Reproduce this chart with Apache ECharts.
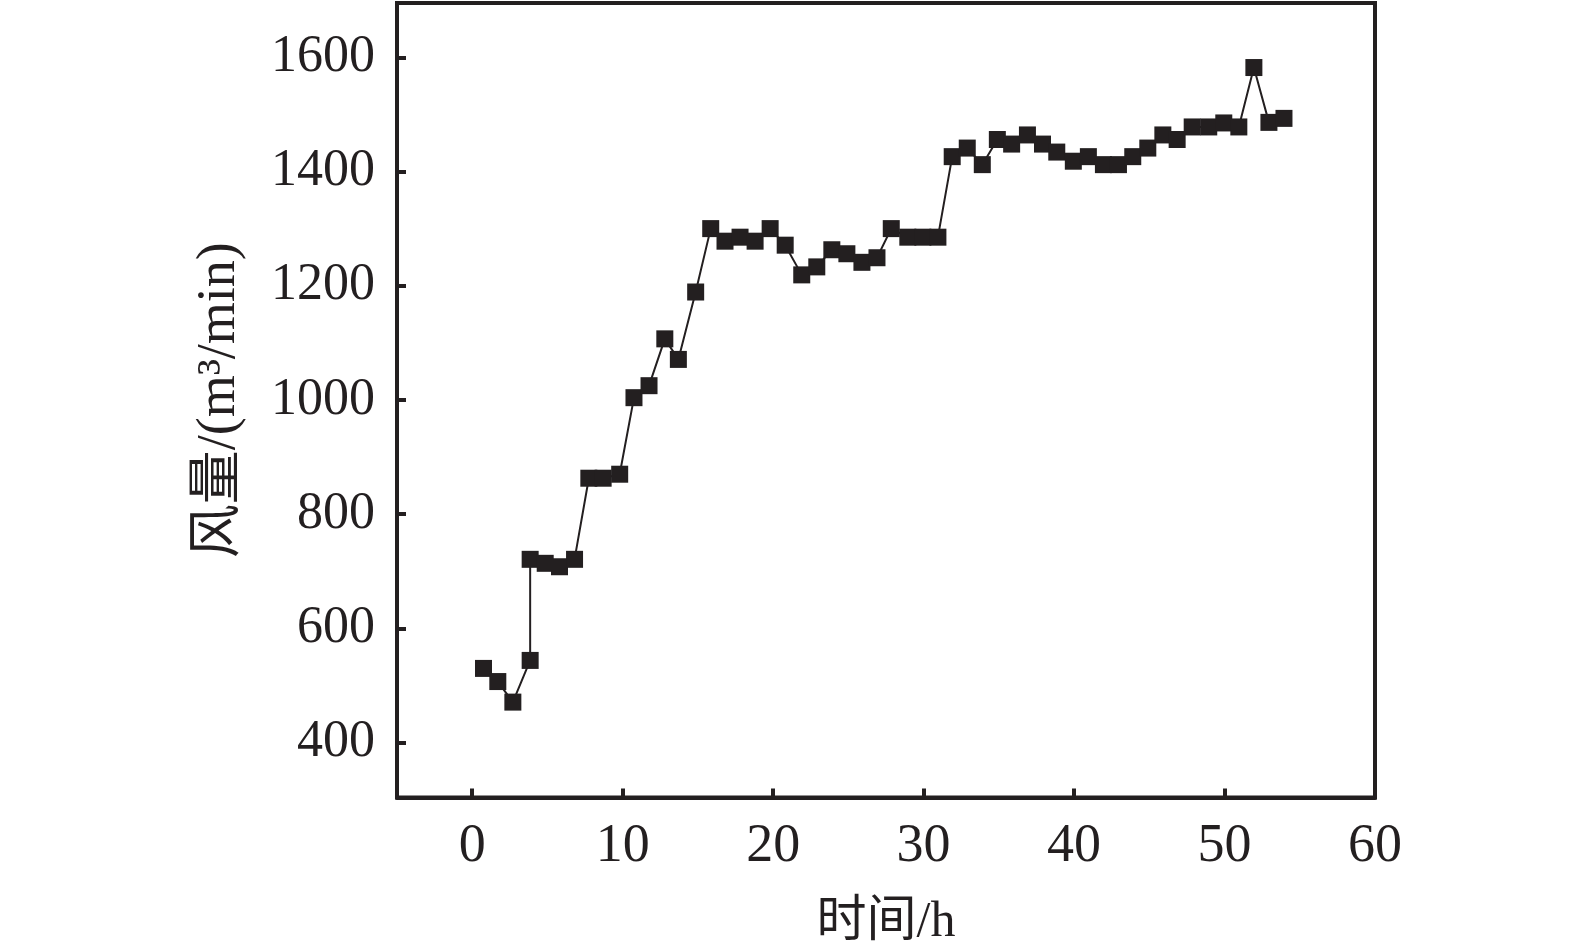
<!DOCTYPE html>
<html>
<head>
<meta charset="utf-8">
<script src="https://cdn.jsdelivr.net/npm/echarts@6/dist/echarts.min.js"></script>
<style>
  html, body { margin: 0; padding: 0; background: #ffffff; }
  #chart { width: 1575px; height: 950px; }
</style>
</head>
<body>
<div id="chart"></div>
<script>
var hours = [0.75, 1.7, 2.7, 3.85, 3.85, 4.85, 5.8, 6.8, 7.75, 8.7,
             9.8, 10.75, 11.75, 12.8, 13.7, 14.85, 15.85, 16.8, 17.8, 18.8,
             19.8, 20.8, 21.9, 22.9, 23.9, 24.9, 25.9, 26.9, 27.85, 28.95,
             29.95, 30.95, 31.9, 32.9, 33.9, 34.9, 35.85, 36.9, 37.9, 38.85,
             39.95, 40.95, 41.95, 42.95, 43.9, 44.9, 45.9, 46.85, 47.85, 48.95,
             49.95, 50.95, 51.95, 52.95, 53.95];
// Air volume (m3/min)
var airflow = [530, 507, 471, 544, 721, 714, 708, 721, 863, 863,
               870, 1004, 1025, 1107, 1071, 1189, 1300, 1278, 1285, 1278,
               1300, 1271, 1219, 1233, 1263, 1256, 1241, 1249, 1300, 1285,
               1285, 1285, 1426, 1441, 1412, 1456, 1448, 1464, 1448, 1434,
               1418, 1426, 1412, 1412, 1426, 1441, 1464, 1456, 1478, 1478,
               1485, 1478, 1582, 1486, 1493];
var xTicks = [0, 10, 20, 30, 40, 50, 60];
var yTicks = [400, 600, 800, 1000, 1200, 1400, 1600];
var xName = '时间/h';
var yName = '风量/(m³/min)';

var ink = '#231f20';
var serif = '"Liberation Serif", "Times New Roman", "Noto Sans CJK SC", serif';

var points = hours.map(function (h, i) { return [h, airflow[i]]; });

var chart = echarts.init(document.getElementById('chart'), null, { renderer: 'canvas' });
chart.setOption({
  backgroundColor: '#ffffff',
  animation: false,
  grid: {
    left: 397, top: 3, width: 978, height: 794.5,
    outerBoundsMode: 'none', containLabel: false,
    show: true, borderColor: ink, borderWidth: 4, backgroundColor: 'transparent'
  },
  xAxis: {
    type: 'value', min: -5, max: 60,
    name: xName, nameLocation: 'middle', nameGap: 100,
    nameTextStyle: { fontFamily: serif, fontSize: 50, color: ink },
    axisLine: { show: true, onZero: false, lineStyle: { color: ink, width: 4 } },
    axisTick: { show: true, inside: true, length: 9, customValues: xTicks, lineStyle: { color: ink, width: 4 } },
    axisLabel: { customValues: xTicks, fontFamily: serif, fontSize: 54, color: ink, margin: 22,
                 formatter: function (v) { return String(v); } },
    splitLine: { show: false }
  },
  yAxis: {
    type: 'value', min: 304, max: 1695,
    name: yName, nameLocation: 'middle', nameGap: 150, nameRotate: 90,
    nameTextStyle: { fontFamily: serif, fontSize: 54, color: ink },
    axisLine: { show: true, onZero: false, lineStyle: { color: ink, width: 4 } },
    axisTick: { show: true, inside: true, length: 9, customValues: yTicks, lineStyle: { color: ink, width: 4 } },
    axisLabel: { customValues: yTicks, fontFamily: serif, fontSize: 52, color: ink, margin: 22,
                 formatter: function (v) { return String(v); } },
    splitLine: { show: false }
  },
  series: [{
    type: 'line',
    data: points,
    symbol: 'rect',
    symbolSize: 17,
    showAllSymbol: true,
    itemStyle: { color: ink },
    lineStyle: { color: ink, width: 2 }
  }]
});
</script>
</body>
</html>
